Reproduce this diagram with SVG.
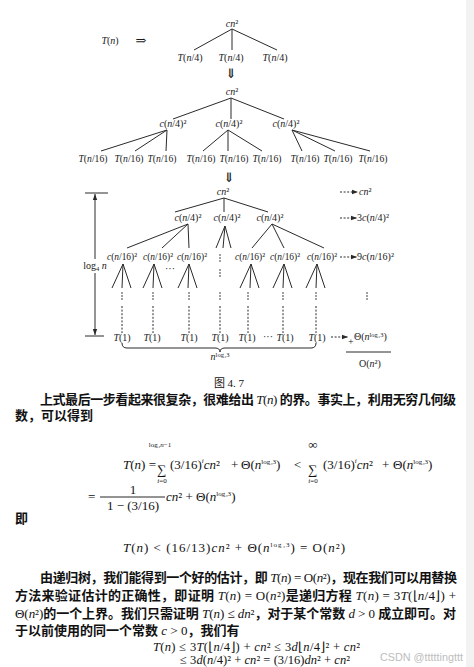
<svg xmlns="http://www.w3.org/2000/svg" width="474" height="667" viewBox="0 0 474 667">
<style>
.t{font-family:'Liberation Serif','DejaVu Serif',serif;font-size:10px;fill:#1a1a1a}
.s{font-size:6.5px}
.i{font-style:italic}
.sym{font-family:'DejaVu Serif',serif;font-size:13px;fill:#1a1a1a;font-weight:bold}
.ln{stroke:#2a2a2a;stroke-width:1;fill:none}
.dl{stroke:#2a2a2a;stroke-width:1;fill:none;stroke-dasharray:2 1.6}
.dt{fill:#2a2a2a}
.cn{font-family:'Liberation Serif','Noto Sans CJK SC',serif;font-size:13px;font-weight:bold;fill:#111}
.cap{font-family:'Liberation Serif','Noto Sans CJK SC',serif;font-size:11px;fill:#111}
.m{font-weight:normal}
.f{font-family:'Liberation Serif','DejaVu Serif',serif;font-size:13px;fill:#111}
.f2{font-family:'Liberation Serif','DejaVu Serif',serif;font-size:12.5px;fill:#111}
.fs{font-size:7px}
</style>
<defs>
<marker id="ah" viewBox="0 0 6 6" refX="6" refY="3" markerWidth="6" markerHeight="6" orient="auto" markerUnits="userSpaceOnUse"><path d="M0,0.8 L6,3 L0,5.2 Z" fill="#2a2a2a"/></marker>
<g id="vd"><circle cx="0" cy="-3" r="0.8"/><circle cx="0" cy="0" r="0.8"/><circle cx="0" cy="3" r="0.8"/></g>
</defs>
<rect x="0" y="0" width="474" height="667" fill="#ffffff"/>
<rect x="466" y="0" width="8" height="667" fill="#f2f2f2"/>

<g id="connectors">
<path class="ln" d="M232,29 L194,50 M232,29 L232,50 M232,29 L277,50"/>
<path class="ln" d="M231,98 L173,119 M231,98 L231,119 M231,98 L284,119"/>
<path class="ln" d="M167,130 L101,151 M167,130 L135,151 M167,130 L166,151"/>
<path class="ln" d="M228,130 L203,151 M228,130 L228,151 M228,130 L262,151"/>
<path class="ln" d="M292,130 L302,151 M292,130 L335,151 M292,130 L370,151"/>
<path class="ln" d="M224,198 L175,212 M224,198 L224,212 M224,198 L268,212"/>
<path class="ln" d="M188,224 L127,248 M188,224 L162,248 M188,224 L189,248"/>
<path class="ln" d="M225,226 L216,248 M225,226 L223,248 M225,226 L231,248"/>
<path class="ln" d="M272,224 L252,248 M272,224 L284,248 M272,224 L324,248"/>
<path class="ln" d="M123,264 L112,288 M123,264 L122,288 M123,264 L131,288"/>
<path class="ln" d="M154,264 L143,288 M154,264 L153,288 M154,264 L162,288"/>
<path class="ln" d="M189,264 L178,288 M189,264 L188,288 M189,264 L197,288"/>
<path class="ln" d="M251,264 L240,288 M251,264 L250,288 M251,264 L259,288"/>
<path class="ln" d="M284,264 L273,288 M284,264 L283,288 M284,264 L292,288"/>
<path class="ln" d="M317,264 L306,288 M317,264 L316,288 M317,264 L325,288"/>
<g class="dt">
<use href="#vd" x="220" y="258"/><use href="#vd" x="220" y="273"/>
<use href="#vd" x="122" y="296"/><use href="#vd" x="153" y="296"/><use href="#vd" x="189" y="296"/><use href="#vd" x="220" y="296"/><use href="#vd" x="248" y="296"/><use href="#vd" x="283" y="296"/><use href="#vd" x="316" y="296"/>
<use href="#vd" x="367" y="296"/>
</g>
<path class="dl" d="M122,306 V333 M153,306 V333 M189,306 V333 M220,306 V333 M248,306 V333 M283,306 V333 M316,306 V333"/>
<path class="ln" d="M122,343 Q122,348 127,348 L215,348 Q220,348 220,352 Q220,348 225,348 L311,348 Q316,348 316,343"/>
<path class="ln" d="M85,193 H108 M85,336 H104"/>
<line class="ln" x1="95" y1="259" x2="95" y2="194" marker-end="url(#ah)"/>
<line class="ln" x1="95" y1="273" x2="95" y2="335" marker-end="url(#ah)"/>
<line class="dl" x1="340" y1="192" x2="358" y2="192" marker-end="url(#ah)"/>
<line class="dl" x1="340" y1="218" x2="357" y2="218" marker-end="url(#ah)"/>
<line class="dl" x1="340" y1="257" x2="357" y2="257" marker-end="url(#ah)"/>
<line class="dl" x1="331" y1="337" x2="348" y2="337" marker-end="url(#ah)"/>
<line class="ln" x1="346" y1="352" x2="391" y2="352"/>
</g>

<g id="stage1">
<g id="n-Tn"><text class="t" x="110" y="44" text-anchor="middle" font-size="11"><tspan class="i">T</tspan>(<tspan class="i">n</tspan>)</text></g>
<g id="n-implies"><text class="sym" x="141" y="45" text-anchor="middle" style="font-weight:normal">⇒</text></g>
<g id="n1-root"><text class="t" x="232" y="27" text-anchor="middle"><tspan class="i">cn</tspan>²</text></g>
<g id="n1-a"><text class="t" x="190" y="61" text-anchor="middle"><tspan class="i">T</tspan>(<tspan class="i">n</tspan>/4)</text></g>
<g id="n1-b"><text class="t" x="231" y="61" text-anchor="middle"><tspan class="i">T</tspan>(<tspan class="i">n</tspan>/4)</text></g>
<g id="n1-c"><text class="t" x="275" y="61" text-anchor="middle"><tspan class="i">T</tspan>(<tspan class="i">n</tspan>/4)</text></g>
<g id="n-down1"><text class="sym" x="231" y="78" text-anchor="middle">⇓</text></g>
</g>

<g id="stage2">
<g id="n2-root"><text class="t" x="232" y="95" text-anchor="middle"><tspan class="i">cn</tspan>²</text></g>
<g id="n2-a"><text class="t" x="173" y="127" text-anchor="middle"><tspan class="i">c</tspan>(<tspan class="i">n</tspan>/4)²</text></g>
<g id="n2-b"><text class="t" x="229" y="127" text-anchor="middle"><tspan class="i">c</tspan>(<tspan class="i">n</tspan>/4)²</text></g>
<g id="n2-c"><text class="t" x="286" y="127" text-anchor="middle"><tspan class="i">c</tspan>(<tspan class="i">n</tspan>/4)²</text></g>
<g id="n2-l1"><text class="t" x="93" y="162" text-anchor="middle" textLength="29" lengthAdjust="spacingAndGlyphs"><tspan class="i">T</tspan>(<tspan class="i">n</tspan>/16)</text></g>
<g id="n2-l2"><text class="t" x="129" y="162" text-anchor="middle" textLength="29" lengthAdjust="spacingAndGlyphs"><tspan class="i">T</tspan>(<tspan class="i">n</tspan>/16)</text></g>
<g id="n2-l3"><text class="t" x="162" y="162" text-anchor="middle" textLength="29" lengthAdjust="spacingAndGlyphs"><tspan class="i">T</tspan>(<tspan class="i">n</tspan>/16)</text></g>
<g id="n2-l4"><text class="t" x="201" y="162" text-anchor="middle" textLength="29" lengthAdjust="spacingAndGlyphs"><tspan class="i">T</tspan>(<tspan class="i">n</tspan>/16)</text></g>
<g id="n2-l5"><text class="t" x="234" y="162" text-anchor="middle" textLength="29" lengthAdjust="spacingAndGlyphs"><tspan class="i">T</tspan>(<tspan class="i">n</tspan>/16)</text></g>
<g id="n2-l6"><text class="t" x="267" y="162" text-anchor="middle" textLength="29" lengthAdjust="spacingAndGlyphs"><tspan class="i">T</tspan>(<tspan class="i">n</tspan>/16)</text></g>
<g id="n2-l7"><text class="t" x="305" y="162" text-anchor="middle" textLength="29" lengthAdjust="spacingAndGlyphs"><tspan class="i">T</tspan>(<tspan class="i">n</tspan>/16)</text></g>
<g id="n2-l8"><text class="t" x="338" y="162" text-anchor="middle" textLength="29" lengthAdjust="spacingAndGlyphs"><tspan class="i">T</tspan>(<tspan class="i">n</tspan>/16)</text></g>
<g id="n2-l9"><text class="t" x="373" y="162" text-anchor="middle" textLength="29" lengthAdjust="spacingAndGlyphs"><tspan class="i">T</tspan>(<tspan class="i">n</tspan>/16)</text></g>
<g id="n-down2"><text class="sym" x="229" y="182" text-anchor="middle">⇓</text></g>
</g>

<g id="stage3">
<g id="n3-root"><text class="t" x="223" y="195" text-anchor="middle"><tspan class="i">cn</tspan>²</text></g>
<g id="n3-a"><text class="t" x="188" y="221" text-anchor="middle"><tspan class="i">c</tspan>(<tspan class="i">n</tspan>/4)²</text></g>
<g id="n3-b"><text class="t" x="227" y="221" text-anchor="middle"><tspan class="i">c</tspan>(<tspan class="i">n</tspan>/4)²</text></g>
<g id="n3-c"><text class="t" x="270" y="221" text-anchor="middle"><tspan class="i">c</tspan>(<tspan class="i">n</tspan>/4)²</text></g>
<g id="n3-m1"><text class="t" x="122" y="260" text-anchor="middle" textLength="30" lengthAdjust="spacingAndGlyphs"><tspan class="i">c</tspan>(<tspan class="i">n</tspan>/16)²</text></g>
<g id="n3-m2"><text class="t" x="158" y="260" text-anchor="middle" textLength="30" lengthAdjust="spacingAndGlyphs"><tspan class="i">c</tspan>(<tspan class="i">n</tspan>/16)²</text></g>
<g id="n3-m3"><text class="t" x="192" y="260" text-anchor="middle" textLength="30" lengthAdjust="spacingAndGlyphs"><tspan class="i">c</tspan>(<tspan class="i">n</tspan>/16)²</text></g>
<g id="n3-m4"><text class="t" x="250" y="260" text-anchor="middle" textLength="30" lengthAdjust="spacingAndGlyphs"><tspan class="i">c</tspan>(<tspan class="i">n</tspan>/16)²</text></g>
<g id="n3-m5"><text class="t" x="285" y="260" text-anchor="middle" textLength="30" lengthAdjust="spacingAndGlyphs"><tspan class="i">c</tspan>(<tspan class="i">n</tspan>/16)²</text></g>
<g id="n3-m6"><text class="t" x="322" y="260" text-anchor="middle" textLength="30" lengthAdjust="spacingAndGlyphs"><tspan class="i">c</tspan>(<tspan class="i">n</tspan>/16)²</text></g>
<g id="n3-dots1"><text class="t" x="170" y="272" text-anchor="middle">···</text></g>
<g id="n3-b1"><text class="t" x="122" y="341" text-anchor="middle" font-size="11"><tspan class="i">T</tspan>(1)</text></g>
<g id="n3-b2"><text class="t" x="152" y="341" text-anchor="middle" font-size="11"><tspan class="i">T</tspan>(1)</text></g>
<g id="n3-b3"><text class="t" x="189" y="341" text-anchor="middle" font-size="11"><tspan class="i">T</tspan>(1)</text></g>
<g id="n3-b4"><text class="t" x="220" y="341" text-anchor="middle" font-size="11"><tspan class="i">T</tspan>(1)</text></g>
<g id="n3-b5"><text class="t" x="247" y="341" text-anchor="middle" font-size="11"><tspan class="i">T</tspan>(1)</text></g>
<g id="n3-dots2"><text class="t" x="268" y="340" text-anchor="middle">···</text></g>
<g id="n3-b6"><text class="t" x="285" y="341" text-anchor="middle" font-size="11"><tspan class="i">T</tspan>(1)</text></g>
<g id="n3-b7"><text class="t" x="317" y="341" text-anchor="middle" font-size="11"><tspan class="i">T</tspan>(1)</text></g>
<g id="n3-count"><text class="t" x="220" y="360" text-anchor="middle" font-size="9"><tspan class="i">n</tspan><tspan class="s" dy="-3">log₄3</tspan></text></g>
<g id="n3-height"><text class="t" x="95" y="269" text-anchor="middle">log<tspan class="s" dy="2">4</tspan><tspan dy="-2"> </tspan><tspan class="i">n</tspan></text></g>
<g id="r-1"><text class="t" x="359" y="195"><tspan class="i">cn</tspan>²</text></g>
<g id="r-2"><text class="t" x="357" y="221">3<tspan class="i">c</tspan>(<tspan class="i">n</tspan>/4)²</text></g>
<g id="r-3"><text class="t" x="357" y="260">9<tspan class="i">c</tspan>(<tspan class="i">n</tspan>/16)²</text></g>
<g id="r-4"><text class="t" x="348" y="345" font-size="8">+</text><text class="t" x="354" y="340">Θ(<tspan class="i">n</tspan><tspan class="s" dy="-3">log₄3</tspan><tspan dy="3">)</tspan></text></g>
<g id="r-sum"><text class="t" x="370" y="367" text-anchor="middle" font-size="11">O(<tspan class="i">n</tspan>²)</text></g>
</g>

<g id="caption"><text class="cap" x="229" y="387" text-anchor="middle">图 4. 7</text></g>

<g id="body">
<text class="cn" x="40" y="404" textLength="416" lengthAdjust="spacing">上式最后一步看起来很复杂，很难给出 <tspan class="m i">T</tspan><tspan class="m">(</tspan><tspan class="m i">n</tspan><tspan class="m">)</tspan> 的界。事实上，利用无穷几何级</text>
<text class="cn" x="15" y="420">数，可以得到</text>

<g id="eq1">
<text class="f" x="123" y="469"><tspan class="i">T</tspan>(<tspan class="i">n</tspan>) =</text>
<text class="f" x="162" y="474" font-size="20" text-anchor="middle">∑</text>
<text class="f fs" x="160" y="447" text-anchor="middle">log₄<tspan class="i">n</tspan>−1</text>
<text class="f fs" x="162" y="483" text-anchor="middle"><tspan class="i">i</tspan>=0</text>
<text class="f" x="170" y="469">(3/16)<tspan class="fs i" dy="-6">i</tspan><tspan class="i" dy="6">cn</tspan>²</text>
<text class="f" x="231" y="469">+</text>
<text class="f" x="241" y="469">Θ(<tspan class="i">n</tspan><tspan class="fs" dy="-5">log₄3</tspan><tspan dy="5">)</tspan></text>
<text class="f" x="294" y="469">&lt;</text>
<text class="f" x="313" y="474" font-size="20" text-anchor="middle">∑</text>
<text class="f" x="313" y="449" font-size="9" text-anchor="middle">∞</text>
<text class="f fs" x="313" y="483" text-anchor="middle"><tspan class="i">i</tspan>=0</text>
<text class="f" x="323" y="469">(3/16)<tspan class="fs i" dy="-6">i</tspan><tspan class="i" dy="6">cn</tspan>²</text>
<text class="f" x="382" y="469">+</text>
<text class="f" x="393" y="469">Θ(<tspan class="i">n</tspan><tspan class="fs" dy="-5">log₄3</tspan><tspan dy="5">)</tspan></text>
</g>

<g id="eq2">
<text class="f" x="88" y="501">=</text>
<text class="f" x="133" y="494" text-anchor="middle">1</text>
<line x1="100" y1="497" x2="165" y2="497" stroke="#111" stroke-width="0.9"/>
<text class="f" x="133" y="510" text-anchor="middle">1 − (3/16)</text>
<text class="f" x="166" y="501"><tspan class="i">cn</tspan>² + Θ(<tspan class="i">n</tspan><tspan class="fs" dy="-5">log₄3</tspan><tspan dy="5">)</tspan></text>
</g>

<text class="cn" x="15" y="523">即</text>
<text class="f" x="123" y="552" textLength="222" lengthAdjust="spacing"><tspan class="i">T</tspan>(<tspan class="i">n</tspan>) &lt; (16/13)<tspan class="i">cn</tspan>² + Θ(<tspan class="i">n</tspan><tspan class="fs" dy="-5">log₄3</tspan><tspan dy="5">) = O(</tspan><tspan class="i">n</tspan>²)</text>

<text class="cn" x="40" y="582" textLength="417" lengthAdjust="spacing">由递归树，我们能得到一个好的估计，即 <tspan class="m i">T</tspan><tspan class="m">(</tspan><tspan class="m i">n</tspan><tspan class="m">) = O(</tspan><tspan class="m i">n</tspan><tspan class="m">²)</tspan>，现在我们可以用替换</text>
<text class="cn" x="15" y="600" textLength="441" lengthAdjust="spacing">方法来验证估计的正确性，即证明 <tspan class="m i">T</tspan><tspan class="m">(</tspan><tspan class="m i">n</tspan><tspan class="m">) = O(</tspan><tspan class="m i">n</tspan><tspan class="m">²)</tspan>是递归方程 <tspan class="m i">T</tspan><tspan class="m">(</tspan><tspan class="m i">n</tspan><tspan class="m">) = 3</tspan><tspan class="m i">T</tspan><tspan class="m">(⌊</tspan><tspan class="m i">n</tspan><tspan class="m">/4⌋) +</tspan></text>
<text class="cn" x="15" y="618" textLength="441" lengthAdjust="spacing"><tspan class="m">Θ(</tspan><tspan class="m i">n</tspan><tspan class="m">²)</tspan>的一个上界。我们只需证明 <tspan class="m i">T</tspan><tspan class="m">(</tspan><tspan class="m i">n</tspan><tspan class="m">) ≤ </tspan><tspan class="m i">dn</tspan><tspan class="m">²</tspan>，对于某个常数 <tspan class="m i">d</tspan><tspan class="m"> &gt; 0 </tspan>成立即可。对</text>
<text class="cn" x="15" y="635">于以前使用的同一个常数 <tspan class="m i">c</tspan><tspan class="m"> &gt; 0</tspan>，我们有</text>

<text class="f2" x="153" y="651" textLength="207" lengthAdjust="spacing"><tspan class="i">T</tspan>(<tspan class="i">n</tspan>) ≤ 3<tspan class="i">T</tspan>(⌊<tspan class="i">n</tspan>/4⌋) + <tspan class="i">cn</tspan>² ≤ 3<tspan class="i">d</tspan>⌊<tspan class="i">n</tspan>/4⌋² + <tspan class="i">cn</tspan>²</text>
<text class="f2" x="180" y="664" textLength="170" lengthAdjust="spacing">≤ 3<tspan class="i">d</tspan>(<tspan class="i">n</tspan>/4)² + <tspan class="i">cn</tspan>² = (3/16)<tspan class="i">dn</tspan>² + <tspan class="i">cn</tspan>²</text>
</g>

<g id="watermark"><text x="380" y="661" font-family="'Liberation Sans',sans-serif" font-size="11" fill="#bdbdbd" textLength="83" lengthAdjust="spacingAndGlyphs">CSDN @tttttingttt</text></g>
</svg>
